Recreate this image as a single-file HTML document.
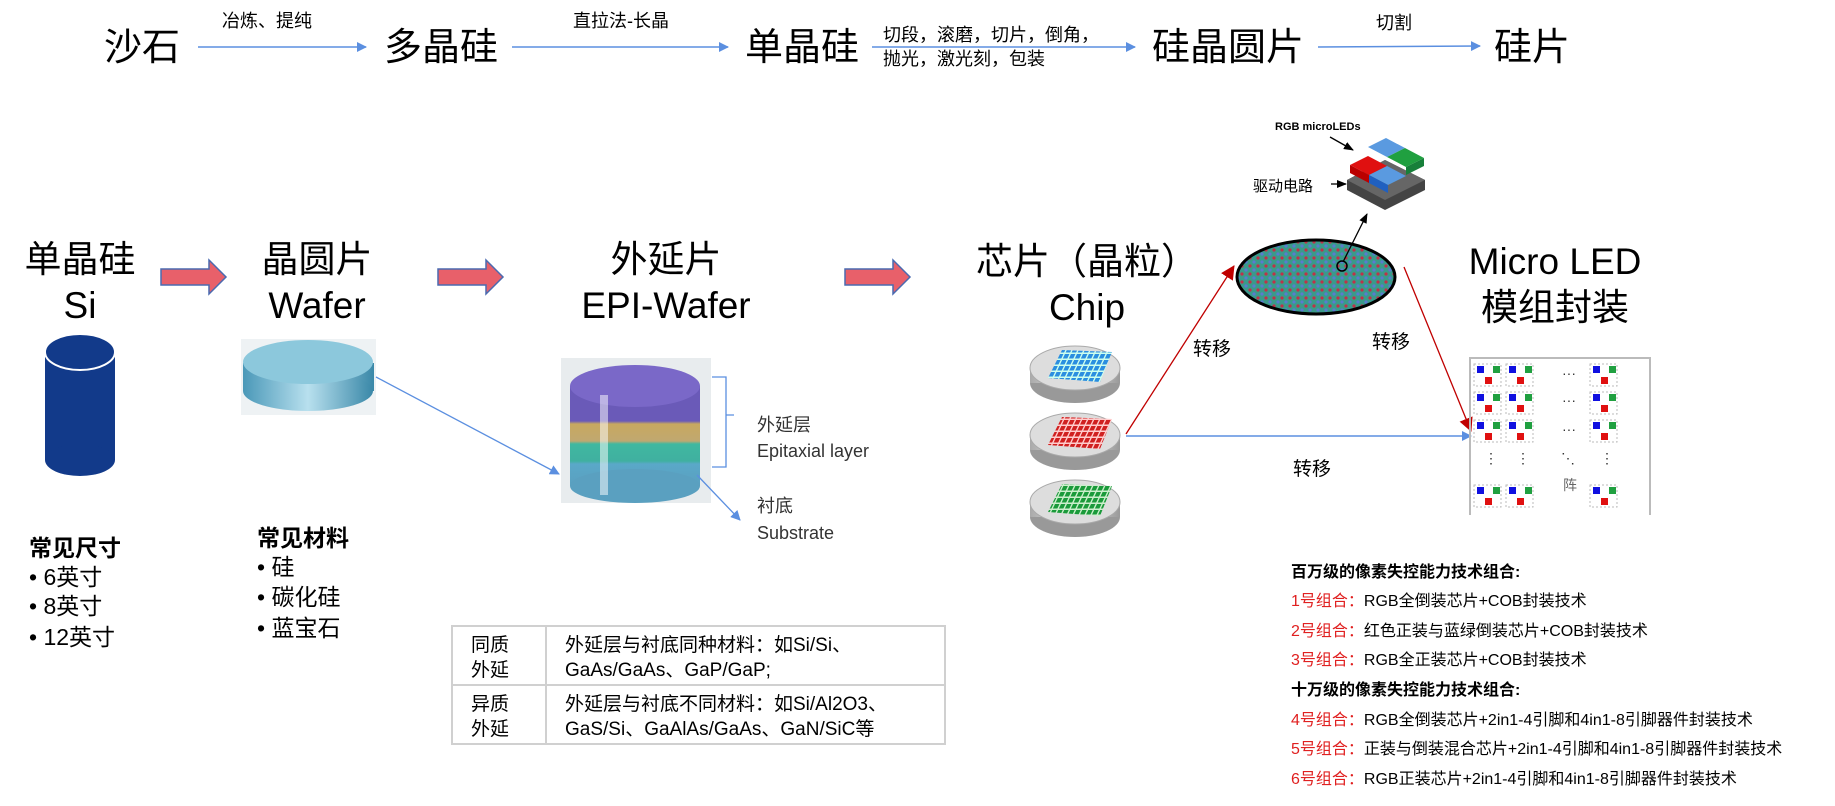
<!DOCTYPE html>
<html><head><meta charset="utf-8"><style>
body{margin:0;background:#fff}
svg text{font-family:"Liberation Sans","Noto Sans CJK SC",sans-serif}
</style></head><body>
<svg width="1835" height="801" viewBox="0 0 1835 801" xmlns="http://www.w3.org/2000/svg">
<defs>
<marker id="ab" markerWidth="10" markerHeight="10" refX="9" refY="5" orient="auto" markerUnits="userSpaceOnUse"><path d="M0,0 L10,5 L0,10 z" fill="#5b8fe0"/></marker>
<marker id="ar" markerWidth="14" markerHeight="14" refX="13" refY="7" orient="auto" markerUnits="userSpaceOnUse"><path d="M0,0 L14,7 L0,14 z" fill="#c00000"/></marker>
<marker id="ak" markerWidth="10" markerHeight="10" refX="9" refY="5" orient="auto" markerUnits="userSpaceOnUse"><path d="M0,1 L10,5 L0,9 z" fill="#000"/></marker>
<pattern id="wp" width="8" height="8" patternUnits="userSpaceOnUse"><rect width="8" height="8" fill="#3a9a8a"/><circle cx="2" cy="2" r="1.6" fill="#c0304a"/><circle cx="6" cy="6" r="1.6" fill="#5a7ad0"/></pattern>
<pattern id="pb" width="6" height="6" patternUnits="userSpaceOnUse" patternTransform="skewX(-25)"><rect width="6" height="6" fill="#cfe"/><rect width="4.5" height="4.5" fill="#2a8ee0"/></pattern>
<pattern id="pr" width="6" height="6" patternUnits="userSpaceOnUse" patternTransform="skewX(-25)"><rect width="6" height="6" fill="#fcc"/><rect width="4.5" height="4.5" fill="#d02020"/></pattern>
<pattern id="pg" width="6" height="6" patternUnits="userSpaceOnUse" patternTransform="skewX(-25)"><rect width="6" height="6" fill="#cec"/><rect width="4.5" height="4.5" fill="#1a9a3a"/></pattern>
<linearGradient id="gd" x1="0" x2="1"><stop offset="0" stop-color="#aaa"/><stop offset=".5" stop-color="#eee"/><stop offset="1" stop-color="#999"/></linearGradient>
<linearGradient id="wf" x1="0" x2="1"><stop offset="0" stop-color="#4a98b8"/><stop offset=".5" stop-color="#b8e0ee"/><stop offset="1" stop-color="#3a88a8"/></linearGradient>
<linearGradient id="ep" x1="0" y1="0" x2="0" y2="1"><stop offset="0" stop-color="#6a5ab8"/><stop offset=".35" stop-color="#6a5ab8"/><stop offset=".38" stop-color="#c8a860"/><stop offset=".55" stop-color="#c0a870"/><stop offset=".58" stop-color="#40b8a0"/><stop offset=".75" stop-color="#40b0a0"/><stop offset=".78" stop-color="#5aa8c8"/><stop offset="1" stop-color="#5aa0c0"/></linearGradient>
</defs>

<g font-size="38" fill="#000">
<text x="104" y="60">沙石</text>
<text x="384" y="60">多晶硅</text>
<text x="745" y="60">单晶硅</text>
<text x="1152" y="60">硅晶圆片</text>
<text x="1494" y="60">硅片</text>
</g>
<g stroke="#5b8fe0" stroke-width="1.5" fill="none" marker-end="url(#ab)">
<line x1="198" y1="47" x2="366" y2="47"/>
<line x1="512" y1="47" x2="728" y2="47"/>
<line x1="872" y1="47" x2="1135" y2="47"/>
<line x1="1318" y1="47" x2="1480" y2="46"/>
</g>
<g font-size="18" fill="#000">
<text x="222" y="27">冶炼、提纯</text>
<text x="573" y="27">直拉法-长晶</text>
<text x="1376" y="29">切割</text>
<text x="883" y="41">切段，滚磨，切片，倒角，</text>
<text x="883" y="65">抛光，激光刻，包装</text>
</g>

<g font-size="37" fill="#000" text-anchor="middle">
<text x="80" y="272">单晶硅</text><text x="80" y="318">Si</text>
<text x="317" y="272">晶圆片</text><text x="317" y="318">Wafer</text>
<text x="666" y="272">外延片</text><text x="666" y="318">EPI-Wafer</text>
<text x="1087" y="274">芯片（晶粒）</text><text x="1087" y="320">Chip</text>
<text x="1555" y="274">Micro LED</text><text x="1555" y="320">模组封装</text>
</g>
<g fill="#e8606a" stroke="#4a6ab0" stroke-width="1.5">
<path d="M161,269 h48 v-9 l17,17 l-17,17 v-9 h-48 z"/>
<path d="M438,269 h48 v-9 l17,17 l-17,17 v-9 h-48 z"/>
<path d="M845,269 h48 v-9 l17,17 l-17,17 v-9 h-48 z"/>
</g>

<rect x="45" y="350" width="70" height="110" fill="#123a8a"/>
<ellipse cx="80" cy="460" rx="35" ry="16" fill="#123a8a"/>
<ellipse cx="80" cy="352" rx="35" ry="18" fill="#123a8a" stroke="#fff" stroke-width="2"/>

<rect x="241" y="339" width="135" height="76" fill="#eef2f4"/>
<rect x="243" y="363" width="131" height="28" fill="url(#wf)"/>
<ellipse cx="308" cy="391" rx="65" ry="20" fill="url(#wf)"/>
<ellipse cx="308" cy="362" rx="65" ry="22" fill="#8cc8dc"/>
<line x1="376" y1="377" x2="559" y2="474" stroke="#5b8fe0" stroke-width="1.3" marker-end="url(#ab)"/>

<rect x="561" y="358" width="150" height="145" fill="#e8ecee"/>
<rect x="570" y="386" width="130" height="100" fill="url(#ep)"/>
<ellipse cx="635" cy="486" rx="65" ry="17" fill="#5aa0c0"/>
<ellipse cx="635" cy="386" rx="65" ry="21" fill="#7a68c8"/>
<rect x="600" y="395" width="8" height="100" fill="#fff" opacity=".5"/>
<path d="M712,377 h14 v38 h8 M726,415 v52 h-14" stroke="#5b8fe0" stroke-width="1.3" fill="none"/>
<line x1="697" y1="475" x2="740" y2="520" stroke="#5b8fe0" stroke-width="1.3" marker-end="url(#ab)"/>
<g font-size="18" fill="#333">
<text x="757" y="431">外延层</text><text x="757" y="457">Epitaxial layer</text>
<text x="757" y="512">衬底</text><text x="757" y="539">Substrate</text>
</g>

<g font-size="23" fill="#000">
<text x="29" y="556" font-weight="bold">常见尺寸</text>
<text x="29" y="585">•  6英寸</text>
<text x="29" y="614">•  8英寸</text>
<text x="29" y="645">•  12英寸</text>
<text x="257" y="546" font-weight="bold">常见材料</text>
<text x="257" y="575">•  硅</text>
<text x="257" y="605">•  碳化硅</text>
<text x="257" y="636">•  蓝宝石</text>
</g>

<g stroke="#d0d0d0" stroke-width="2" fill="none">
<rect x="452" y="626" width="493" height="118"/>
<line x1="546" y1="626" x2="546" y2="744"/>
<line x1="452" y1="685" x2="945" y2="685"/>
</g>
<g font-size="19" fill="#000">
<text x="471" y="651">同质</text><text x="471" y="676">外延</text>
<text x="471" y="710">异质</text><text x="471" y="735">外延</text>
<text x="565" y="651">外延层与衬底同种材料：如Si/Si、</text>
<text x="565" y="676">GaAs/GaAs、GaP/GaP;</text>
<text x="565" y="710">外延层与衬底不同材料：如Si/Al2O3、</text>
<text x="565" y="735">GaS/Si、GaAlAs/GaAs、GaN/SiC等</text>
</g>

<g>
<ellipse cx="1075" cy="383" rx="45" ry="20" fill="#999"/><rect x="1030" y="368" width="90" height="15" fill="url(#gd)"/><ellipse cx="1075" cy="368" rx="45" ry="22" fill="#ddd" stroke="#aaa"/>
<path d="M1048,378 L1062,350 L1112,352 L1100,382 z" fill="url(#pb)"/>
<ellipse cx="1075" cy="450" rx="45" ry="20" fill="#999"/><rect x="1030" y="435" width="90" height="15" fill="url(#gd)"/><ellipse cx="1075" cy="435" rx="45" ry="22" fill="#ddd" stroke="#aaa"/>
<path d="M1048,445 L1062,417 L1112,419 L1100,449 z" fill="url(#pr)"/>
<ellipse cx="1075" cy="517" rx="45" ry="20" fill="#999"/><rect x="1030" y="502" width="90" height="15" fill="url(#gd)"/><ellipse cx="1075" cy="502" rx="45" ry="22" fill="#ddd" stroke="#aaa"/>
<path d="M1048,512 L1062,484 L1112,486 L1100,516 z" fill="url(#pg)"/>
</g>

<ellipse cx="1316" cy="277" rx="79" ry="37" fill="url(#wp)" stroke="#000" stroke-width="3"/>
<circle cx="1342" cy="266" r="5" fill="none" stroke="#000" stroke-width="1.5"/>
<line x1="1343" y1="262" x2="1367" y2="214" stroke="#000" stroke-width="1.3" marker-end="url(#ak)"/>

<g>
<path d="M1347,180 L1385,160 L1425,180 L1425,190 L1385,210 L1347,190 z" fill="#444"/>
<path d="M1347,180 L1385,160 L1425,180 L1385,200 z" fill="#666"/>
<path d="M1350,165 L1368,156 L1387,166 L1369,175 z" fill="#e01010"/>
<path d="M1350,165 L1369,175 L1369,183 L1350,173 z" fill="#b00"/>
<path d="M1368,147 L1386,138 L1405,148 L1387,157 z" fill="#5a9ae0"/>
<path d="M1387,157 L1405,148 L1424,158 L1406,167 z" fill="#20a040"/>
<path d="M1406,167 L1424,158 L1424,166 L1406,175 z" fill="#17803a"/>
<path d="M1369,175 L1387,166 L1406,176 L1388,185 z" fill="#5a9ae0"/>
<path d="M1369,175 L1388,185 L1388,193 L1369,183 z" fill="#2060c0"/>
</g>
<text x="1275" y="130" font-size="11" font-weight="bold" fill="#000">RGB microLEDs</text>
<line x1="1330" y1="137" x2="1353" y2="150" stroke="#000" stroke-width="1.3" marker-end="url(#ak)"/>
<text x="1253" y="191" font-size="15" fill="#000">驱动电路</text>
<line x1="1331" y1="184" x2="1346" y2="184" stroke="#000" stroke-width="1.3" marker-end="url(#ak)"/>

<line x1="1126" y1="434" x2="1234" y2="266" stroke="#c00000" stroke-width="1.3" marker-end="url(#ar)"/>
<line x1="1404" y1="267" x2="1471" y2="431" stroke="#c00000" stroke-width="1.3" marker-end="url(#ar)"/>
<line x1="1126" y1="436" x2="1471" y2="436" stroke="#5b8fe0" stroke-width="1.5" marker-end="url(#ab)"/>
<g font-size="19" fill="#000">
<text x="1193" y="355">转移</text>
<text x="1372" y="348">转移</text>
<text x="1293" y="475">转移</text>
</g>

<path d="M1470,515 V358 H1650 V515" fill="none" stroke="#bbb" stroke-width="2"/>
<g>
<defs><g id="px"><rect x="0" y="0" width="27" height="22" fill="none" stroke="#bbb" stroke-dasharray="2,2"/><rect x="3" y="2" width="7" height="7" fill="#1010e0"/><rect x="19" y="2" width="7" height="7" fill="#20a040"/><rect x="11" y="13" width="7" height="7" fill="#e01010"/></g></defs>
<use href="#px" x="1474" y="364"/><use href="#px" x="1506" y="364"/><use href="#px" x="1590" y="364"/>
<use href="#px" x="1474" y="392"/><use href="#px" x="1506" y="392"/><use href="#px" x="1590" y="392"/>
<use href="#px" x="1474" y="420"/><use href="#px" x="1506" y="420"/><use href="#px" x="1590" y="420"/>
<use href="#px" x="1474" y="485"/><use href="#px" x="1506" y="485"/><use href="#px" x="1590" y="485"/>
</g>
<g font-size="14" fill="#333">
<text x="1562" y="378">···</text><text x="1562" y="405">···</text><text x="1562" y="434">···</text>
<text x="1484" y="463">⋮</text><text x="1516" y="463">⋮</text><text x="1600" y="463">⋮</text>
<text x="1561" y="463">⋱</text>
<text x="1563" y="490" fill="#666">阵</text>
</g>

<g font-size="16" fill="#000">
<text x="1291" y="577" font-weight="bold">百万级的像素失控能力技术组合:</text>
<text x="1291" y="606"><tspan fill="#e02020">1号组合：</tspan>RGB全倒装芯片+COB封装技术</text>
<text x="1291" y="636"><tspan fill="#e02020">2号组合：</tspan>红色正装与蓝绿倒装芯片+COB封装技术</text>
<text x="1291" y="665"><tspan fill="#e02020">3号组合：</tspan>RGB全正装芯片+COB封装技术</text>
<text x="1291" y="695" font-weight="bold">十万级的像素失控能力技术组合:</text>
<text x="1291" y="725"><tspan fill="#e02020">4号组合：</tspan>RGB全倒装芯片+2in1-4引脚和4in1-8引脚器件封装技术</text>
<text x="1291" y="754"><tspan fill="#e02020">5号组合：</tspan>正装与倒装混合芯片+2in1-4引脚和4in1-8引脚器件封装技术</text>
<text x="1291" y="784"><tspan fill="#e02020">6号组合：</tspan>RGB正装芯片+2in1-4引脚和4in1-8引脚器件封装技术</text>
</g>
</svg>
</body></html>
